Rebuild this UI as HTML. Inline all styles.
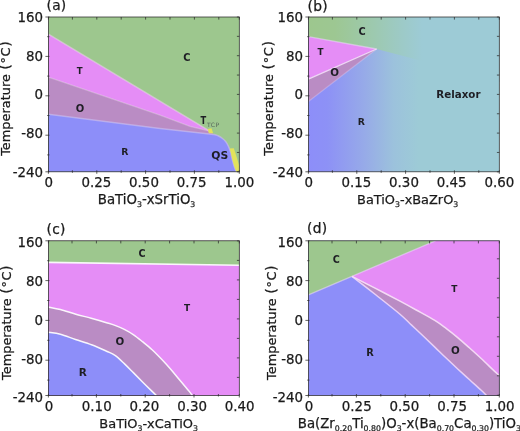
<!DOCTYPE html>
<html><head><meta charset="utf-8"><title>Phase diagrams</title>
<style>html,body{margin:0;padding:0;background:#fff;}svg{display:block}svg{font-family:"DejaVu Sans","Liberation Sans",sans-serif;font-size:13.4px}text{fill:#1a1a1a;stroke:#1a1a1a;stroke-width:0.25px}.l{fill:#1e1e24;font-weight:bold;stroke:none}.s{fill:#56665a;stroke:none}</style>
</head><body>
<svg width="520" height="431" viewBox="0 0 520 431">
<defs>
<linearGradient id="gC" x1="308" x2="499" y1="0" y2="0" gradientUnits="userSpaceOnUse">
<stop offset="0" stop-color="#9dc78e"/><stop offset="0.14" stop-color="#9dc792"/><stop offset="0.35" stop-color="#9dc9b0"/><stop offset="0.5" stop-color="#9dcac8"/><stop offset="0.6" stop-color="#9dcbd6"/><stop offset="1" stop-color="#9dcbd6"/></linearGradient>
<linearGradient id="gR" x1="308" x2="499" y1="0" y2="0" gradientUnits="userSpaceOnUse">
<stop offset="0" stop-color="#8d8ef9"/><stop offset="0.1" stop-color="#8d91f6"/><stop offset="0.3" stop-color="#97abe8"/><stop offset="0.45" stop-color="#9cc2dc"/><stop offset="0.58" stop-color="#9dcbd6"/><stop offset="1" stop-color="#9dcbd6"/></linearGradient>
<linearGradient id="gFade" x1="376" x2="425" y1="0" y2="0" gradientUnits="userSpaceOnUse">
<stop offset="0" stop-color="#fff" stop-opacity="0.35"/><stop offset="1" stop-color="#fff" stop-opacity="0"/></linearGradient>
</defs>
<rect width="520" height="431" fill="#fff"/>

<g id="pa">
<rect x="48.4" y="17" width="190.90" height="154.80" fill="#9dc78e"/>
<polygon points="48.40,34.20 209.80,131.20 190.00,126.40 160.00,115.20 48.40,77.20" fill="#e58df6"/>
<polygon points="48.40,77.20 160.00,115.20 190.00,126.40 209.80,131.20 214.00,134.50 205.00,133.50 160.00,128.40 48.40,114.20" fill="#ba8cc4"/>
<path d="M48.4,114.2L160,128.4L205.00,133.50C206.50,133.67 211.83,134.12 214.00,134.50C216.17,134.88 216.58,135.13 218.00,135.80C219.42,136.47 221.17,137.47 222.50,138.50C223.83,139.53 225.00,140.67 226.00,142.00C227.00,143.33 227.73,144.82 228.50,146.50C229.27,148.18 229.93,149.82 230.60,152.10C231.27,154.38 231.83,157.63 232.50,160.20C233.17,162.77 233.97,165.57 234.60,167.50C235.23,169.43 236.02,171.08 236.30,171.80L48.4,171.8Z" fill="#8d8ef9"/>
<polyline points="48.40,34.20 209.80,131.20" stroke="#ecd4ec" stroke-width="1.4" fill="none" opacity="0.55"/>
<polyline points="48.40,77.20 160.00,115.20 190.00,126.40 209.80,131.20" stroke="#f0c8f8" stroke-width="1.3" fill="none" opacity="0.4"/>
<path d="M48.4,114.2L160,128.4L205.00,133.50C206.50,133.67 211.83,134.12 214.00,134.50C216.17,134.88 216.58,135.13 218.00,135.80C219.42,136.47 221.17,137.47 222.50,138.50C223.83,139.53 225.00,140.67 226.00,142.00C227.00,143.33 227.73,144.82 228.50,146.50C229.27,148.18 229.93,149.82 230.60,152.10C231.27,154.38 231.83,157.63 232.50,160.20C233.17,162.77 233.97,165.57 234.60,167.50C235.23,169.43 236.02,171.08 236.30,171.80" stroke="#d0bcf6" stroke-width="1.5" fill="none" opacity="0.6"/>
<polygon points="207.80,129.00 211.50,128.30 213.20,133.30 208.80,133.20" fill="#e2e25c"/>
<polygon points="229.60,148.60 233.80,148.20 236.00,155.00 239.30,166.00 239.30,171.80 236.30,171.80 234.60,167.50 232.50,160.20 230.60,152.10" fill="#e2e25c"/>
<text transform="translate(186.90,60.63) scale(1,1)" text-anchor="middle" class="l" style="font-size:9.8px">C</text>
<text transform="translate(79.80,74.00) scale(1,1)" text-anchor="middle" class="l" style="font-size:8.6px">T</text>
<text transform="translate(79.90,111.90) scale(1,1)" text-anchor="middle" class="l" style="font-size:10px">O</text>
<text transform="translate(124.90,154.95) scale(1,1)" text-anchor="middle" class="l" style="font-size:9.3px">R</text>
<text transform="translate(219.80,159.49) scale(1,1)" text-anchor="middle" class="l" style="font-size:10.8px">QS</text>
<text transform="translate(200.4,124.2) scale(0.84,1)" class="l" style="font-size:10px">T</text>
<text transform="translate(206.90,126.60) scale(1,1)" class="s" style="font-size:6px"><tspan letter-spacing="0.5">TCP</tspan></text>
<rect x="48.4" y="17" width="190.90" height="154.80" fill="none" stroke="#2b2b2b" stroke-width="0.75"/>
<path d="M48.40,17v2.6M48.40,170.30v3.5M239.30,17.00h-2.4M45.40,17.00h4M72.40,17v2.6M72.40,170.30v2.5M239.30,36.35h-2.4M47.20,36.70h2.2M96.80,17v2.6M96.80,170.30v3.5M239.30,55.70h-2.4M45.40,56.40h4M121.20,17v2.6M121.20,170.30v2.5M239.30,75.05h-2.4M47.20,76.10h2.2M145.60,17v2.6M145.60,170.30v3.5M239.30,94.40h-2.4M45.40,95.80h4M170.00,17v2.6M170.00,170.30v2.5M239.30,113.75h-2.4M47.20,115.50h2.2M194.40,17v2.6M194.40,170.30v3.5M239.30,133.10h-2.4M45.40,135.20h4M218.80,17v2.6M218.80,170.30v2.5M239.30,152.45h-2.4M47.20,154.90h2.2M239.30,17v2.6M239.30,170.30v3.5M239.30,171.80h-2.4M45.40,171.80h4" stroke="#2b2b2b" stroke-width="0.75" fill="none"/>
<text transform="translate(43.10,22.00) scale(1,1)" text-anchor="end">160</text>
<text transform="translate(43.10,60.70) scale(1,1)" text-anchor="end">80</text>
<text transform="translate(43.10,99.40) scale(1,1)" text-anchor="end">0</text>
<text transform="translate(43.10,138.10) scale(1,1)" text-anchor="end">-80</text>
<text transform="translate(43.10,176.80) scale(1,1)" text-anchor="end">-240</text>
<text transform="translate(48.70,187.20) scale(1,1)" text-anchor="middle">0</text>
<text transform="translate(96.35,187.20) scale(1,1)" text-anchor="middle">0.25</text>
<text transform="translate(144.00,187.20) scale(1,1)" text-anchor="middle">0.50</text>
<text transform="translate(191.65,187.20) scale(1,1)" text-anchor="middle">0.75</text>
<text transform="translate(239.30,187.20) scale(1,1)" text-anchor="middle">1.00</text>
<text transform="translate(146.55,204.10) scale(1,1)" text-anchor="middle" style="font-size:13.3px">BaTiO<tspan style="font-size:7.8px" dy="3">3</tspan><tspan dy="-3">-xSrTiO</tspan><tspan style="font-size:7.8px" dy="3">3</tspan></text>
<text transform="translate(46.50,10.20) scale(1,1)" style="font-size:13.8px"><tspan letter-spacing="0.25">(a)</tspan></text>
<text transform="translate(10.20,98.20) scale(1,1) rotate(-90)" text-anchor="middle" style="font-size:12.9px" word-spacing="0.4">Temperature <tspan letter-spacing="0.6"><tspan style="font-size:14.4px">(</tspan>°C<tspan style="font-size:14.4px">)</tspan></tspan></text>
</g>
<g id="pb">
<rect x="308.4" y="17" width="190.90" height="154.80" fill="url(#gR)"/>
<polygon points="308.40,17.00 499.30,17.00 499.30,82.00 430.00,63.00 376.60,49.00 308.40,36.70" fill="url(#gC)"/>
<polygon points="308.40,36.70 376.60,49.00 308.40,79.10" fill="#e58df6"/>
<polygon points="308.40,79.10 376.60,49.00 308.40,101.60" fill="#ba8cc4"/>
<polyline points="308.40,36.70 376.60,49.00" stroke="#f4e4f4" stroke-width="1.3" fill="none" opacity="0.5"/>
<polyline points="308.40,79.10 376.60,49.00" stroke="#fbeafb" stroke-width="1.15" fill="none" opacity="0.8"/>
<polyline points="308.40,101.60 376.60,49.00" stroke="#e8d0f4" stroke-width="1.2" fill="none" opacity="0.35"/>
<text transform="translate(362.10,35.03) scale(1,1)" text-anchor="middle" class="l" style="font-size:9.8px">C</text>
<text transform="translate(320.40,54.97) scale(1,1)" text-anchor="middle" class="l" style="font-size:8.8px">T</text>
<text transform="translate(334.60,76.31) scale(1,1)" text-anchor="middle" class="l" style="font-size:10.3px">O</text>
<text transform="translate(361.30,124.95) scale(1,1)" text-anchor="middle" class="l" style="font-size:9.3px">R</text>
<text transform="translate(458.40,98.31) scale(1,1)" text-anchor="middle" class="l" style="font-size:10.3px">Relaxor</text>
<rect x="308.4" y="17" width="190.90" height="154.80" fill="none" stroke="#2b2b2b" stroke-width="0.75"/>
<path d="M308.40,17v2.6M308.40,170.30v3.5M499.30,17.00h-2.4M305.40,17.00h4M332.40,17v2.6M332.40,170.30v2.5M499.30,36.35h-2.4M307.20,36.70h2.2M356.80,17v2.6M356.80,170.30v3.5M499.30,55.70h-2.4M305.40,56.40h4M381.20,17v2.6M381.20,170.30v2.5M499.30,75.05h-2.4M307.20,76.10h2.2M405.60,17v2.6M405.60,170.30v3.5M499.30,94.40h-2.4M305.40,95.80h4M430.00,17v2.6M430.00,170.30v2.5M499.30,113.75h-2.4M307.20,115.50h2.2M454.40,17v2.6M454.40,170.30v3.5M499.30,133.10h-2.4M305.40,135.20h4M478.80,17v2.6M478.80,170.30v2.5M499.30,152.45h-2.4M307.20,154.90h2.2M499.30,17v2.6M499.30,170.30v3.5M499.30,171.80h-2.4M305.40,171.80h4" stroke="#2b2b2b" stroke-width="0.75" fill="none"/>
<text transform="translate(303.10,22.00) scale(1,1)" text-anchor="end">160</text>
<text transform="translate(303.10,60.70) scale(1,1)" text-anchor="end">80</text>
<text transform="translate(303.10,99.40) scale(1,1)" text-anchor="end">0</text>
<text transform="translate(303.10,138.10) scale(1,1)" text-anchor="end">-80</text>
<text transform="translate(303.10,176.80) scale(1,1)" text-anchor="end">-240</text>
<text transform="translate(308.70,187.20) scale(1,1)" text-anchor="middle">0</text>
<text transform="translate(356.35,187.20) scale(1,1)" text-anchor="middle">0.15</text>
<text transform="translate(404.00,187.20) scale(1,1)" text-anchor="middle">0.30</text>
<text transform="translate(451.65,187.20) scale(1,1)" text-anchor="middle">0.45</text>
<text transform="translate(499.30,187.20) scale(1,1)" text-anchor="middle">0.60</text>
<text transform="translate(407.65,204.10) scale(1,1)" text-anchor="middle" style="font-size:12.9px">BaTiO<tspan style="font-size:7.8px" dy="3">3</tspan><tspan dy="-3">-xBaZrO</tspan><tspan style="font-size:7.8px" dy="3">3</tspan></text>
<text transform="translate(307.50,10.50) scale(1,1)" style="font-size:13.8px"><tspan letter-spacing="0.25">(b)</tspan></text>
<text transform="translate(272.60,98.00) scale(1,1) rotate(-90)" text-anchor="middle" style="font-size:12.9px" word-spacing="0.4">Temperature <tspan letter-spacing="0.6"><tspan style="font-size:14.4px">(</tspan>°C<tspan style="font-size:14.4px">)</tspan></tspan></text>
</g>
<g id="pc">
<rect x="48.4" y="240.8" width="190.90" height="154.70" fill="#e58df6"/>
<polygon points="48.40,240.80 239.30,240.80 239.30,265.20 48.40,262.40" fill="#9dc78e"/>
<path d="M48.40,307.00C50.40,307.43 55.83,308.40 60.40,309.60C64.97,310.80 70.67,312.75 75.80,314.20C80.93,315.65 86.08,316.88 91.20,318.30C96.32,319.72 102.53,321.52 106.50,322.70C110.47,323.88 112.03,324.28 115.00,325.40C117.97,326.52 121.20,327.83 124.30,329.40C127.40,330.97 130.52,332.72 133.60,334.80C136.68,336.88 139.72,339.42 142.80,341.90C145.88,344.38 149.00,346.85 152.10,349.70C155.20,352.55 158.30,355.75 161.40,359.00C164.50,362.25 167.62,365.65 170.70,369.20C173.78,372.75 176.82,376.60 179.90,380.30C182.98,384.00 187.13,388.87 189.20,391.40C191.27,393.93 191.78,394.82 192.30,395.50L48.4,395.5Z" fill="#ba8cc4"/>
<path d="M48.40,332.20C50.40,332.53 55.88,332.98 60.40,334.20C64.92,335.42 70.32,337.73 75.50,339.50C80.68,341.27 86.33,342.85 91.50,344.80C96.67,346.75 102.58,349.43 106.50,351.20C110.42,352.97 112.03,353.33 115.00,355.40C117.97,357.47 121.20,360.68 124.30,363.60C127.40,366.52 130.52,369.80 133.60,372.90C136.68,376.00 139.72,379.12 142.80,382.20C145.88,385.28 149.83,389.18 152.10,391.40C154.37,393.62 155.68,394.82 156.40,395.50L48.4,395.5Z" fill="#8d8ef9"/>
<path d="M48.4,262.4L239.3,265.2" stroke="#fff" stroke-width="1.6" fill="none" opacity="0.9"/>
<path d="M48.40,307.00C50.40,307.43 55.83,308.40 60.40,309.60C64.97,310.80 70.67,312.75 75.80,314.20C80.93,315.65 86.08,316.88 91.20,318.30C96.32,319.72 102.53,321.52 106.50,322.70C110.47,323.88 112.03,324.28 115.00,325.40C117.97,326.52 121.20,327.83 124.30,329.40C127.40,330.97 130.52,332.72 133.60,334.80C136.68,336.88 139.72,339.42 142.80,341.90C145.88,344.38 149.00,346.85 152.10,349.70C155.20,352.55 158.30,355.75 161.40,359.00C164.50,362.25 167.62,365.65 170.70,369.20C173.78,372.75 176.82,376.60 179.90,380.30C182.98,384.00 187.13,388.87 189.20,391.40C191.27,393.93 191.78,394.82 192.30,395.50" stroke="#fff" stroke-width="1.5" fill="none" opacity="0.92"/>
<path d="M48.40,332.20C50.40,332.53 55.88,332.98 60.40,334.20C64.92,335.42 70.32,337.73 75.50,339.50C80.68,341.27 86.33,342.85 91.50,344.80C96.67,346.75 102.58,349.43 106.50,351.20C110.42,352.97 112.03,353.33 115.00,355.40C117.97,357.47 121.20,360.68 124.30,363.60C127.40,366.52 130.52,369.80 133.60,372.90C136.68,376.00 139.72,379.12 142.80,382.20C145.88,385.28 149.83,389.18 152.10,391.40C154.37,393.62 155.68,394.82 156.40,395.50" stroke="#fff" stroke-width="1.5" fill="none" opacity="0.92"/>
<text transform="translate(142.00,256.56) scale(1,1)" text-anchor="middle" class="l" style="font-size:9.6px">C</text>
<text transform="translate(187.00,310.74) scale(1,1)" text-anchor="middle" class="l" style="font-size:9px">T</text>
<text transform="translate(119.80,345.01) scale(1,1)" text-anchor="middle" class="l" style="font-size:10.3px">O</text>
<text transform="translate(82.70,375.58) scale(1,1)" text-anchor="middle" class="l" style="font-size:10.5px">R</text>
<rect x="48.4" y="240.8" width="190.90" height="154.70" fill="none" stroke="#2b2b2b" stroke-width="0.75"/>
<path d="M48.40,240.8v2.6M48.40,394.00v3.5M239.30,240.90h-2.4M45.40,240.80h4M72.00,240.8v2.6M72.00,394.00v2.5M239.30,260.40h-2.4M47.20,260.70h2.2M96.40,240.8v2.6M96.40,394.00v3.5M239.30,279.90h-2.4M45.40,280.60h4M120.80,240.8v2.6M120.80,394.00v2.5M239.30,299.40h-2.4M47.20,300.50h2.2M145.20,240.8v2.6M145.20,394.00v3.5M239.30,318.90h-2.4M45.40,320.40h4M169.60,240.8v2.6M169.60,394.00v2.5M239.30,338.40h-2.4M47.20,340.30h2.2M194.00,240.8v2.6M194.00,394.00v3.5M239.30,357.90h-2.4M45.40,360.20h4M218.40,240.8v2.6M218.40,394.00v2.5M239.30,377.40h-2.4M47.20,380.10h2.2M239.30,240.8v2.6M239.30,394.00v3.5M45.40,395.50h4" stroke="#2b2b2b" stroke-width="0.75" fill="none"/>
<text transform="translate(43.10,246.80) scale(1,1)" text-anchor="end">160</text>
<text transform="translate(43.10,285.70) scale(1,1)" text-anchor="end">80</text>
<text transform="translate(43.10,324.60) scale(1,1)" text-anchor="end">0</text>
<text transform="translate(43.10,363.50) scale(1,1)" text-anchor="end">-80</text>
<text transform="translate(43.10,402.40) scale(1,1)" text-anchor="end">-240</text>
<text transform="translate(49.10,410.70) scale(1,1)" text-anchor="middle">0</text>
<text transform="translate(96.75,410.70) scale(1,1)" text-anchor="middle">0.10</text>
<text transform="translate(144.40,410.70) scale(1,1)" text-anchor="middle">0.20</text>
<text transform="translate(192.05,410.70) scale(1,1)" text-anchor="middle">0.30</text>
<text transform="translate(239.70,410.70) scale(1,1)" text-anchor="middle">0.40</text>
<text transform="translate(148.65,427.80) scale(1,1)" text-anchor="middle" style="font-size:12.95px">BaTiO<tspan style="font-size:7.8px" dy="3">3</tspan><tspan dy="-3">-xCaTiO</tspan><tspan style="font-size:7.8px" dy="3">3</tspan></text>
<text transform="translate(46.60,234.30) scale(1,1)" style="font-size:13.8px"><tspan letter-spacing="0.25">(c)</tspan></text>
<text transform="translate(11.20,322.35) scale(1,1) rotate(-90)" text-anchor="middle" style="font-size:12.9px" word-spacing="0.4">Temperature <tspan letter-spacing="0.6"><tspan style="font-size:14.4px">(</tspan>°C<tspan style="font-size:14.4px">)</tspan></tspan></text>
</g>
<g id="pd">
<rect x="308.4" y="240.8" width="190.90" height="154.70" fill="#8d8ef9"/>
<polygon points="308.40,240.80 435.50,240.80 308.40,294.80" fill="#9dc78e"/>
<path d="M352.00,276.30C356.00,278.35 368.00,284.45 376.00,288.60C384.00,292.75 393.30,297.63 400.00,301.20C406.70,304.77 410.40,306.80 416.20,310.00C422.00,313.20 429.77,317.30 434.80,320.40C439.83,323.50 442.53,325.70 446.40,328.60C450.27,331.50 454.13,334.57 458.00,337.80C461.87,341.03 465.73,344.55 469.60,348.00C473.47,351.45 477.33,354.90 481.20,358.50C485.07,362.10 489.78,366.73 492.80,369.60C495.82,372.47 498.22,374.68 499.30,375.70L499.3,240.8L435.5,240.8Z" fill="#e58df6"/>
<path d="M352.00,276.30C356.00,278.35 368.00,284.45 376.00,288.60C384.00,292.75 393.30,297.63 400.00,301.20C406.70,304.77 410.40,306.80 416.20,310.00C422.00,313.20 429.77,317.30 434.80,320.40C439.83,323.50 442.53,325.70 446.40,328.60C450.27,331.50 454.13,334.57 458.00,337.80C461.87,341.03 465.73,344.55 469.60,348.00C473.47,351.45 477.33,354.90 481.20,358.50C485.07,362.10 489.78,366.73 492.80,369.60C495.82,372.47 498.22,374.68 499.30,375.70L499.3,395.5L486.6,395.5L486.60,395.50C485.70,394.63 484.03,392.92 481.20,390.30C478.37,387.68 473.47,383.32 469.60,379.80C465.73,376.28 461.87,372.78 458.00,369.20C454.13,365.62 450.27,361.98 446.40,358.30C442.53,354.62 438.67,350.82 434.80,347.10C430.93,343.38 427.07,339.67 423.20,336.00C419.33,332.33 415.47,328.73 411.60,325.10C407.73,321.47 405.93,319.22 400.00,314.20C394.07,309.18 384.00,301.32 376.00,295.00C368.00,288.68 356.00,279.42 352.00,276.30Z" fill="#ba8cc4"/>
<path d="M308.4,294.8L435.5,240.8" stroke="#f0e0f0" stroke-width="1.3" fill="none" opacity="0.55"/>
<path d="M352.00,276.30C356.00,278.35 368.00,284.45 376.00,288.60C384.00,292.75 393.30,297.63 400.00,301.20C406.70,304.77 410.40,306.80 416.20,310.00C422.00,313.20 429.77,317.30 434.80,320.40C439.83,323.50 442.53,325.70 446.40,328.60C450.27,331.50 454.13,334.57 458.00,337.80C461.87,341.03 465.73,344.55 469.60,348.00C473.47,351.45 477.33,354.90 481.20,358.50C485.07,362.10 489.78,366.73 492.80,369.60C495.82,372.47 498.22,374.68 499.30,375.70" stroke="#fbe2f8" stroke-width="1.5" fill="none" opacity="0.9"/>
<path d="M352.00,276.30C356.00,279.42 368.00,288.68 376.00,295.00C384.00,301.32 394.07,309.18 400.00,314.20C405.93,319.22 407.73,321.47 411.60,325.10C415.47,328.73 419.33,332.33 423.20,336.00C427.07,339.67 430.93,343.38 434.80,347.10C438.67,350.82 442.53,354.62 446.40,358.30C450.27,361.98 454.13,365.62 458.00,369.20C461.87,372.78 465.73,376.28 469.60,379.80C473.47,383.32 478.37,387.68 481.20,390.30C484.03,392.92 485.70,394.63 486.60,395.50" stroke="#f4dcfa" stroke-width="1.5" fill="none" opacity="0.85"/>
<text transform="translate(336.20,262.86) scale(1,1)" text-anchor="middle" class="l" style="font-size:9.6px">C</text>
<text transform="translate(454.40,292.14) scale(1,1)" text-anchor="middle" class="l" style="font-size:9px">T</text>
<text transform="translate(455.30,353.71) scale(1,1)" text-anchor="middle" class="l" style="font-size:10.3px">O</text>
<text transform="translate(370.00,356.43) scale(1,1)" text-anchor="middle" class="l" style="font-size:9.8px">R</text>
<rect x="308.4" y="240.8" width="190.90" height="154.70" fill="none" stroke="#2b2b2b" stroke-width="0.75"/>
<path d="M308.40,240.8v2.6M308.40,394.00v3.5M305.40,240.80h4M332.00,240.8v2.6M332.00,394.00v2.5M499.30,258.80h-2.4M307.20,260.70h2.2M356.40,240.8v2.6M356.40,394.00v3.5M499.30,278.30h-2.4M305.40,280.60h4M380.80,240.8v2.6M380.80,394.00v2.5M499.30,297.80h-2.4M307.20,300.50h2.2M405.20,240.8v2.6M405.20,394.00v3.5M499.30,317.30h-2.4M305.40,320.40h4M429.60,240.8v2.6M429.60,394.00v2.5M499.30,336.80h-2.4M307.20,340.30h2.2M454.00,240.8v2.6M454.00,394.00v3.5M499.30,356.30h-2.4M305.40,360.20h4M478.40,240.8v2.6M478.40,394.00v2.5M499.30,375.80h-2.4M307.20,380.10h2.2M499.30,240.8v2.6M499.30,394.00v3.5M499.30,395.30h-2.4M305.40,395.50h4" stroke="#2b2b2b" stroke-width="0.75" fill="none"/>
<text transform="translate(303.10,246.80) scale(1,1)" text-anchor="end">160</text>
<text transform="translate(303.10,285.70) scale(1,1)" text-anchor="end">80</text>
<text transform="translate(303.10,324.60) scale(1,1)" text-anchor="end">0</text>
<text transform="translate(303.10,363.50) scale(1,1)" text-anchor="end">-80</text>
<text transform="translate(303.10,402.40) scale(1,1)" text-anchor="end">-240</text>
<text transform="translate(309.10,410.70) scale(1,1)" text-anchor="middle">0</text>
<text transform="translate(356.75,410.70) scale(1,1)" text-anchor="middle">0.25</text>
<text transform="translate(404.40,410.70) scale(1,1)" text-anchor="middle">0.50</text>
<text transform="translate(452.05,410.70) scale(1,1)" text-anchor="middle">0.75</text>
<text transform="translate(499.70,410.70) scale(1,1)" text-anchor="middle">1.00</text>
<text transform="translate(409.35,427.80) scale(1,1)" text-anchor="middle" style="font-size:13.3px">Ba(Zr<tspan style="font-size:7.8px" dy="3">0.20</tspan><tspan dy="-3">Ti</tspan><tspan style="font-size:7.8px" dy="3">0.80</tspan><tspan dy="-3">)O</tspan><tspan style="font-size:7.8px" dy="3">3</tspan><tspan dy="-3">-x(Ba</tspan><tspan style="font-size:7.8px" dy="3">0.70</tspan><tspan dy="-3">Ca</tspan><tspan style="font-size:7.8px" dy="3">0.30</tspan><tspan dy="-3">)TiO</tspan><tspan style="font-size:7.8px" dy="3">3</tspan></text>
<text transform="translate(307.10,232.80) scale(1,1)" style="font-size:13.8px"><tspan letter-spacing="0.25">(d)</tspan></text>
<text transform="translate(275.80,322.35) scale(1,1) rotate(-90)" text-anchor="middle" style="font-size:12.9px" word-spacing="0.4">Temperature <tspan letter-spacing="0.6"><tspan style="font-size:14.4px">(</tspan>°C<tspan style="font-size:14.4px">)</tspan></tspan></text>
</g>
</svg></body></html>
